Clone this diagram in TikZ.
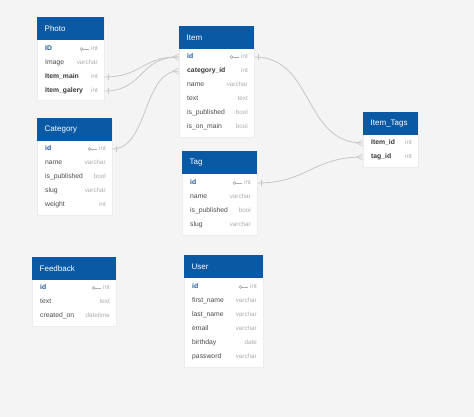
\documentclass[tikz,border=0pt]{standalone}
\usepackage{fontspec}
\setmainfont{Liberation Sans}
\definecolor{bg}{RGB}{244,244,244}
\definecolor{hdr}{RGB}{10,89,165}
\definecolor{pk}{RGB}{30,86,150}
\definecolor{fld}{RGB}{75,75,75}
\definecolor{fkc}{RGB}{55,55,55}
\definecolor{typ}{RGB}{172,172,172}
\definecolor{lnk}{RGB}{198,198,198}
\tikzset{
  tblbody/.style={fill=white, draw=black!7, line width=0.6pt, inner sep=0pt},
  hdrtext/.style={text=white, font=\fontsize{8}{9}\selectfont, anchor=west, inner sep=0pt},
  fname/.style={text=fld, font=\fontsize{6.8}{8}\selectfont, anchor=west, inner sep=0pt, text height=5pt, text depth=1.5pt},
  pkname/.style={fname, text=pk, font=\fontsize{6.8}{8}\selectfont\bfseries},
  fkname/.style={fname, text=fkc, font=\fontsize{6.8}{8}\selectfont\bfseries},
  tname/.style={text=typ, font=\fontsize{6.3}{8}\selectfont, anchor=east, inner sep=0pt, text height=5pt, text depth=1.5pt},
  conn/.style={draw=lnk, line width=0.8pt},
  keyline/.style={draw=typ, line width=0.6pt},
}
% #1 id, #2 left, #3 top, #4 right, #5 bottom, #6 title
\newcommand\dbtab[6]{%
  \node[tblbody, minimum width={#4-#2}, minimum height={#5-#3}] (#1-box) at ({(#2+#4)/2},{(#3+#5)/2}) {};
  \fill[hdr] (#2,#3) rectangle (#4,#3+23);
  \node[hdrtext] (#1) at (#2+7.5,#3+11.5) {#6};
}
% #1 id, #2 left, #3 right, #4 y, #5 style, #6 field, #7 type
\newcommand\dbrow[7]{%
  \node[#5] (#1) at (#2+8,#4) {#6};
  \node[tname] (#1-t) at (#3-6,#4) {#7};
}
\newcommand\pkkey[1]{%
  \draw[keyline] ([xshift=-9.5pt]#1-t.west) circle (1.4pt);
  \draw[keyline] ([xshift=-8.1pt]#1-t.west) -- ([xshift=-2.5pt]#1-t.west) -- ([xshift=-2.5pt,yshift=-1.3pt]#1-t.west);
  \draw[keyline] ([xshift=-4.5pt]#1-t.west) -- ([xshift=-4.5pt,yshift=-1.3pt]#1-t.west);
}
% tick mark near point #1, #2 = direction (+1 right, -1 left)
\newcommand\onemark[2]{%
  \draw[conn, line width=0.6pt] ([xshift=#2*4pt,yshift=3pt]#1) -- ([xshift=#2*4pt,yshift=-3pt]#1);
}
\newcommand\manymark[2]{%
  \draw[conn, line width=0.6pt] ([yshift=3pt]#1) -- ([xshift=#2*6pt]#1) -- ([yshift=-3pt]#1);
}
\begin{document}
\begin{tikzpicture}[x=1pt, y=-1pt]
\useasboundingbox (0,0) rectangle (474,417);
\fill[bg] (0,0) rectangle (474,417);

% Photo
\dbtab{photo}{37}{17}{104}{100}{Photo}
\dbrow{ph-id}{37}{104}{49}{pkname}{ID}{int}\pkkey{ph-id}
\dbrow{ph-image}{37}{104}{63}{fname}{Image}{varchar}
\dbrow{ph-main}{37}{104}{77}{fkname}{Item\_main}{int}
\dbrow{ph-galery}{37}{104}{91}{fkname}{Item\_galery}{int}

% Item
\dbtab{item}{179}{26}{254}{137}{Item}
\dbrow{it-id}{179}{254}{57}{pkname}{id}{int}\pkkey{it-id}
\dbrow{it-cat}{179}{254}{71}{fkname}{category\_id}{int}
\dbrow{it-name}{179}{254}{85}{fname}{name}{varchar}
\dbrow{it-text}{179}{254}{99}{fname}{text}{text}
\dbrow{it-pub}{179}{254}{113}{fname}{is\_published}{bool}
\dbrow{it-main}{179}{254}{127}{fname}{is\_on\_main}{bool}

% Category
\dbtab{cat}{37}{118}{112}{215}{Category}
\dbrow{ca-id}{37}{112}{149}{pkname}{id}{int}\pkkey{ca-id}
\dbrow{ca-name}{37}{112}{163}{fname}{name}{varchar}
\dbrow{ca-pub}{37}{112}{177}{fname}{is\_published}{bool}
\dbrow{ca-slug}{37}{112}{191}{fname}{slug}{varchar}
\dbrow{ca-weight}{37}{112}{205}{fname}{weight}{int}

% Tag
\dbtab{tag}{182}{151}{257}{235}{Tag}
\dbrow{tg-id}{182}{257}{183}{pkname}{id}{int}\pkkey{tg-id}
\dbrow{tg-name}{182}{257}{197}{fname}{name}{varchar}
\dbrow{tg-pub}{182}{257}{211}{fname}{is\_published}{bool}
\dbrow{tg-slug}{182}{257}{225}{fname}{slug}{varchar}

% Item_Tags
\dbtab{itags}{363}{112}{418}{167}{Item\_Tags}
\dbrow{itg-item}{363}{418}{143}{fkname}{Item\_id}{int}
\dbrow{itg-tag}{363}{418}{157}{fkname}{tag\_id}{int}

% Feedback
\dbtab{fb}{32}{257}{116}{326}{Feedback}
\dbrow{fb-id}{32}{116}{288}{pkname}{id}{int}\pkkey{fb-id}
\dbrow{fb-text}{32}{116}{302}{fname}{text}{text}
\dbrow{fb-created}{32}{116}{316}{fname}{created\_on}{datetime}

% User
\dbtab{user}{184}{255}{263}{367}{User}
\dbrow{us-id}{184}{263}{287}{pkname}{id}{int}\pkkey{us-id}
\dbrow{us-first}{184}{263}{301}{fname}{first\_name}{varchar}
\dbrow{us-last}{184}{263}{315}{fname}{last\_name}{varchar}
\dbrow{us-email}{184}{263}{329}{fname}{email}{varchar}
\dbrow{us-birth}{184}{263}{343}{fname}{birthday}{date}
\dbrow{us-pass}{184}{263}{357}{fname}{password}{varchar}

% connector end points
\coordinate (e-phmain) at (ph-main -| photo-box.east);
\coordinate (e-phgal) at (ph-galery -| photo-box.east);
\coordinate (e-itid-l) at (it-id -| item-box.west);
\coordinate (e-itcat) at (it-cat -| item-box.west);
\coordinate (e-caid) at (ca-id -| cat-box.east);
\coordinate (e-itid-r) at (it-id -| item-box.east);
\coordinate (e-tgid) at (tg-id -| tag-box.east);
\coordinate (e-itgitem) at (itg-item -| itags-box.west);
\coordinate (e-itgtag) at (itg-tag -| itags-box.west);

\draw[conn] (e-phmain) .. controls +(38,0) and +(-38,0) .. (e-itid-l);
\draw[conn] (e-phgal) .. controls +(40,0) and +(-40,0) .. (e-itid-l);
\draw[conn] (e-caid) .. controls +(36,0) and +(-36,0) .. (e-itcat);
\draw[conn] (e-itid-r) .. controls +(60,0) and +(-60,0) .. (e-itgitem);
\draw[conn] (e-tgid) .. controls +(50,0) and +(-50,0) .. (e-itgtag);

\onemark{e-phmain}{1}
\onemark{e-phgal}{1}
\onemark{e-caid}{1}
\onemark{e-itid-r}{1}
\onemark{e-tgid}{1}
\manymark{e-itid-l}{-1}
\manymark{e-itcat}{-1}
\manymark{e-itgitem}{-1}
\manymark{e-itgtag}{-1}
\end{tikzpicture}
\end{document}
